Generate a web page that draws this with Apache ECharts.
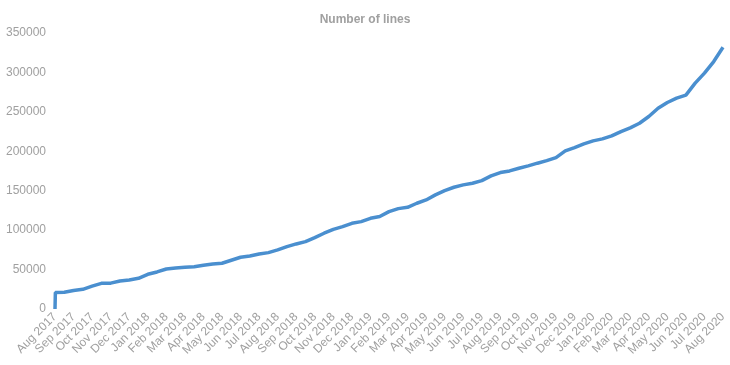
<!DOCTYPE html>
<html>
<head>
<meta charset="utf-8">
<script src="https://cdn.jsdelivr.net/npm/echarts@6/dist/echarts.min.js"></script>
<style>html,body{margin:0;padding:0;background:#fff;}#c{width:730px;height:365px;}</style>
</head>
<body>
<div id="c"></div>
<script>
var monthLabels = ["Aug 2017","Sep 2017","Oct 2017","Nov 2017","Dec 2017","Jan 2018","Feb 2018","Mar 2018","Apr 2018","May 2018","Jun 2018","Jul 2018","Aug 2018","Sep 2018","Oct 2018","Nov 2018","Dec 2018","Jan 2019","Feb 2019","Mar 2019","Apr 2019","May 2019","Jun 2019","Jul 2019","Aug 2019","Sep 2019","Oct 2019","Nov 2019","Dec 2019","Jan 2020","Feb 2020","Mar 2020","Apr 2020","May 2020","Jun 2020","Jul 2020","Aug 2020"];
// x positions in months since Aug 2017 (read at month starts and mid-months)
var monthPos = [0, 0.02, 0.5, 1, 1.5, 2, 2.5, 3, 3.5, 4, 4.5, 5, 5.5, 6, 6.5, 7, 7.5, 8, 8.5, 9, 9.5, 10, 10.5, 11, 11.5, 12, 12.5, 13, 13.5, 14, 14.5, 15, 15.5, 16, 16.5, 17, 17.5, 18, 18.5, 19, 19.5, 20, 20.5, 21, 21.5, 22, 22.5, 23, 23.5, 24, 24.5, 25, 25.5, 26, 26.5, 27, 27.5, 28, 28.5, 29, 29.5, 30, 30.5, 31, 31.5, 32, 32.5, 33, 33.5, 34, 34.5, 35, 35.5, 36];
var lineCount = [0, 21000, 21300, 23500, 25000, 29000, 32500, 32800, 35500, 36800, 38900, 44000, 47000, 50700, 52000, 52900, 53700, 55600, 57100, 58000, 61800, 65600, 67300, 69800, 71500, 74900, 79100, 82500, 85400, 90500, 96100, 101000, 104400, 108700, 110800, 115000, 117200, 123500, 127300, 129000, 134100, 138300, 144700, 150100, 154400, 157400, 159500, 162800, 168800, 173000, 175100, 178500, 181500, 184900, 188200, 192000, 200500, 204700, 209400, 213200, 215700, 219500, 225000, 229700, 235600, 244100, 254600, 261900, 267400, 271200, 286400, 299100, 313800, 332000];
var yTicks = {min: 0, max: 350000, interval: 50000};

var chart = echarts.init(document.getElementById('c'));
var pts = monthPos.map(function (x, i) { return [x, lineCount[i]]; });
var grey = '#a0a0a0';
chart.setOption({
  animation: false,
  title: {
    text: 'Number of lines', left: 'center', top: 9,
    textStyle: {fontFamily: 'Liberation Sans, Arial', fontSize: 12, fontWeight: 'bold', color: grey}
  },
  grid: {left: 55, right: 7, top: 33, bottom: 56, containLabel: false},
  xAxis: {
    type: 'value', min: 0, max: 36, interval: 1,
    axisLine: {show: false}, axisTick: {show: false}, splitLine: {show: false},
    axisLabel: {
      rotate: 45, margin: 6, color: grey, fontSize: 12, fontFamily: 'Liberation Sans, Arial',
      formatter: function (v) { return monthLabels[Math.round(v)] || ''; }
    }
  },
  yAxis: {
    type: 'value', min: yTicks.min, max: yTicks.max, interval: yTicks.interval,
    axisLine: {show: false}, axisTick: {show: false}, splitLine: {show: false},
    axisLabel: {margin: 9, color: grey, fontSize: 12, fontFamily: 'Liberation Sans, Arial',
      formatter: function (v) { return String(v); }}
  },
  series: [{
    type: 'line', data: pts, showSymbol: false, symbol: 'none',
    lineStyle: {color: '#4a8fcf', width: 3.5}
  }]
});
</script>
</body>
</html>
